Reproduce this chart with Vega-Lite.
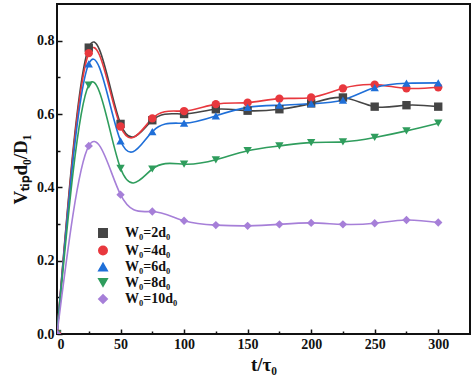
{
  "$schema": "https://vega.github.io/schema/vega-lite/v6.json",
  "width": 413,
  "height": 330,
  "autosize": {"type": "none"},
  "padding": {"left": 57, "top": 4, "right": 4, "bottom": 53},
  "background": "white",
  "config": {
    "view": {"stroke": "#111111", "strokeWidth": 2},
    "font": "Liberation Serif",
    "axis": {
      "domain": false,
      "grid": false,
      "tickColor": "#111111",
      "tickWidth": 1.5,
      "labelFont": "Liberation Serif",
      "labelFontWeight": "bold",
      "labelFontSize": 14,
      "labelColor": "#111111",
      "titleFont": "Liberation Serif",
      "titleFontWeight": "bold",
      "titleFontSize": 19,
      "titleColor": "#111111"
    }
  },
  "data": {
    "values": [
      {"t": 0, "v": 0, "s": "W₀=2d₀"}, {"t": 25, "v": 0.781, "s": "W₀=2d₀"}, {"t": 50, "v": 0.573, "s": "W₀=2d₀"}, {"t": 75, "v": 0.583, "s": "W₀=2d₀"}, {"t": 100, "v": 0.6, "s": "W₀=2d₀"}, {"t": 125, "v": 0.613, "s": "W₀=2d₀"}, {"t": 150, "v": 0.609, "s": "W₀=2d₀"}, {"t": 175, "v": 0.613, "s": "W₀=2d₀"}, {"t": 200, "v": 0.629, "s": "W₀=2d₀"}, {"t": 225, "v": 0.645, "s": "W₀=2d₀"}, {"t": 250, "v": 0.62, "s": "W₀=2d₀"}, {"t": 275, "v": 0.624, "s": "W₀=2d₀"}, {"t": 300, "v": 0.62, "s": "W₀=2d₀"},
      {"t": 0, "v": 0, "s": "W₀=4d₀"}, {"t": 25, "v": 0.766, "s": "W₀=4d₀"}, {"t": 50, "v": 0.566, "s": "W₀=4d₀"}, {"t": 75, "v": 0.588, "s": "W₀=4d₀"}, {"t": 100, "v": 0.608, "s": "W₀=4d₀"}, {"t": 125, "v": 0.627, "s": "W₀=4d₀"}, {"t": 150, "v": 0.631, "s": "W₀=4d₀"}, {"t": 175, "v": 0.642, "s": "W₀=4d₀"}, {"t": 200, "v": 0.645, "s": "W₀=4d₀"}, {"t": 225, "v": 0.67, "s": "W₀=4d₀"}, {"t": 250, "v": 0.68, "s": "W₀=4d₀"}, {"t": 275, "v": 0.67, "s": "W₀=4d₀"}, {"t": 300, "v": 0.673, "s": "W₀=4d₀"},
      {"t": 0, "v": 0, "s": "W₀=6d₀"}, {"t": 25, "v": 0.737, "s": "W₀=6d₀"}, {"t": 50, "v": 0.527, "s": "W₀=6d₀"}, {"t": 75, "v": 0.552, "s": "W₀=6d₀"}, {"t": 100, "v": 0.575, "s": "W₀=6d₀"}, {"t": 125, "v": 0.595, "s": "W₀=6d₀"}, {"t": 150, "v": 0.618, "s": "W₀=6d₀"}, {"t": 175, "v": 0.624, "s": "W₀=6d₀"}, {"t": 200, "v": 0.628, "s": "W₀=6d₀"}, {"t": 225, "v": 0.638, "s": "W₀=6d₀"}, {"t": 250, "v": 0.672, "s": "W₀=6d₀"}, {"t": 275, "v": 0.684, "s": "W₀=6d₀"}, {"t": 300, "v": 0.685, "s": "W₀=6d₀"},
      {"t": 0, "v": 0, "s": "W₀=8d₀"}, {"t": 25, "v": 0.679, "s": "W₀=8d₀"}, {"t": 50, "v": 0.452, "s": "W₀=8d₀"}, {"t": 75, "v": 0.45, "s": "W₀=8d₀"}, {"t": 100, "v": 0.463, "s": "W₀=8d₀"}, {"t": 125, "v": 0.475, "s": "W₀=8d₀"}, {"t": 150, "v": 0.5, "s": "W₀=8d₀"}, {"t": 175, "v": 0.513, "s": "W₀=8d₀"}, {"t": 200, "v": 0.522, "s": "W₀=8d₀"}, {"t": 225, "v": 0.524, "s": "W₀=8d₀"}, {"t": 250, "v": 0.536, "s": "W₀=8d₀"}, {"t": 275, "v": 0.554, "s": "W₀=8d₀"}, {"t": 300, "v": 0.575, "s": "W₀=8d₀"},
      {"t": 0, "v": 0, "s": "W₀=10d₀"}, {"t": 25, "v": 0.513, "s": "W₀=10d₀"}, {"t": 50, "v": 0.38, "s": "W₀=10d₀"}, {"t": 75, "v": 0.334, "s": "W₀=10d₀"}, {"t": 100, "v": 0.309, "s": "W₀=10d₀"}, {"t": 125, "v": 0.297, "s": "W₀=10d₀"}, {"t": 150, "v": 0.295, "s": "W₀=10d₀"}, {"t": 175, "v": 0.299, "s": "W₀=10d₀"}, {"t": 200, "v": 0.303, "s": "W₀=10d₀"}, {"t": 225, "v": 0.299, "s": "W₀=10d₀"}, {"t": 250, "v": 0.302, "s": "W₀=10d₀"}, {"t": 275, "v": 0.311, "s": "W₀=10d₀"}, {"t": 300, "v": 0.304, "s": "W₀=10d₀"}
    ]
  },
  "encoding": {
    "x": {
      "field": "t", "type": "quantitative",
      "scale": {"domain": [0, 325], "nice": false, "zero": false},
      "axis": {
        "title": "t/τ₀",
        "values": [0, 25, 50, 75, 100, 125, 150, 175, 200, 225, 250, 275, 300],
        "labelExpr": "datum.value % 50 === 0 ? datum.label : ''",
        "tickSize": {"condition": {"test": "datum.value % 50 === 0", "value": -5}, "value": -3},
        "labelPadding": 8,
        "titlePadding": 4
      }
    },
    "y": {
      "field": "v", "type": "quantitative",
      "scale": {"domain": [0, 0.9], "nice": false},
      "axis": {
        "title": "Vₜᵢₚd₀/D₁",
        "values": [0, 0.1, 0.2, 0.3, 0.4, 0.5, 0.6, 0.7, 0.8],
        "format": ".1f",
        "labelExpr": "round(datum.value * 10) % 2 === 0 ? datum.label : ''",
        "tickSize": {"condition": {"test": "round(datum.value * 10) % 2 === 0", "value": -5}, "value": -3},
        "labelPadding": 8,
        "titlePadding": 6
      }
    },
    "color": {
      "field": "s", "type": "nominal",
      "scale": {
        "domain": ["W₀=2d₀", "W₀=4d₀", "W₀=6d₀", "W₀=8d₀", "W₀=10d₀"],
        "range": ["#454545", "#e8383e", "#1f6fd8", "#2f9d5d", "#a67fd8"]
      }
    }
  },
  "layer": [
    {
      "mark": {"type": "line", "interpolate": "natural", "strokeWidth": 1.6, "clip": true}
    },
    {
      "mark": {"type": "point", "filled": true, "opacity": 1, "size": 70, "clip": true},
      "encoding": {
        "color": {
          "field": "s", "type": "nominal",
          "legend": {
            "title": null,
            "orient": "none",
            "legendX": 39,
            "legendY": 222,
            "padding": 0,
            "symbolSize": 70,
            "labelOffset": 15,
            "rowPadding": 1.5,
            "labelFont": "Liberation Serif",
            "labelFontWeight": "bold",
            "labelFontSize": 14,
            "labelColor": "#111111",
            "symbolStrokeWidth": 1.6
          }
        },
        "shape": {
          "field": "s", "type": "nominal",
          "scale": {
            "domain": ["W₀=2d₀", "W₀=4d₀", "W₀=6d₀", "W₀=8d₀", "W₀=10d₀"],
            "range": ["square", "circle", "triangle-up", "triangle-down", "diamond"]
          }
        }
      }
    }
  ]
}
